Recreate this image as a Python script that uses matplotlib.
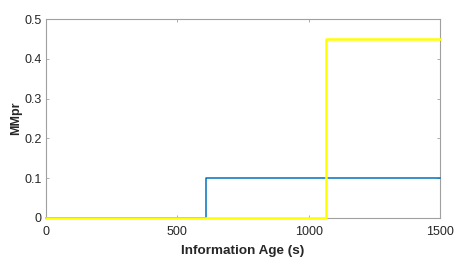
import matplotlib
matplotlib.use("Agg")
import matplotlib.pyplot as plt

plt.rcParams['font.family'] = ['Liberation Sans', 'DejaVu Sans']

blue_t = [0, 609, 1500]
blue_v = [0, 0.1, 0.1]
yellow_t = [0, 1067, 1500]
yellow_v = [0, 0.45, 0.45]

xticks = [0, 500, 1000, 1500]
yticks = [0, 0.1, 0.2, 0.3, 0.4, 0.5]

fig = plt.figure(figsize=(4.74, 2.78), dpi=100)
ax = fig.add_axes([46/474, 1 - 218/278, (440-46)/474, (218-19)/278])

ax.step(blue_t, blue_v, where='post', color='#0072BD', lw=1.1, clip_on=False, zorder=3)
ax.step(yellow_t, yellow_v, where='post', color='#FFFF00', lw=1.8, clip_on=False, zorder=4)

ax.set_xlim(0, 1500)
ax.set_ylim(0, 0.5)
ax.set_xticks(xticks)
ax.set_yticks(yticks)
ax.set_xticklabels([str(v) for v in xticks])
ax.set_yticklabels(['0', '0.1', '0.2', '0.3', '0.4', '0.5'])

gray = '#A0A0A0'
for s in ax.spines.values():
    s.set_color(gray)
    s.set_linewidth(0.8)
    s.set_zorder(2)
ax.tick_params(direction='in', length=2.5, width=0.6, color=gray,
               labelsize=9, labelcolor='#262626', top=True, right=True,
               labeltop=False, labelright=False)
ax.tick_params(axis='x', pad=5.5)
ax.tick_params(axis='y', pad=3)
ax.set_xlabel('Information Age (s)', fontsize=9.7, fontweight='bold', color='#262626', labelpad=5)
ax.set_ylabel('MMpr', fontsize=9, fontweight='bold', color='#262626', labelpad=2)

fig.savefig('out.png', dpi=100)
